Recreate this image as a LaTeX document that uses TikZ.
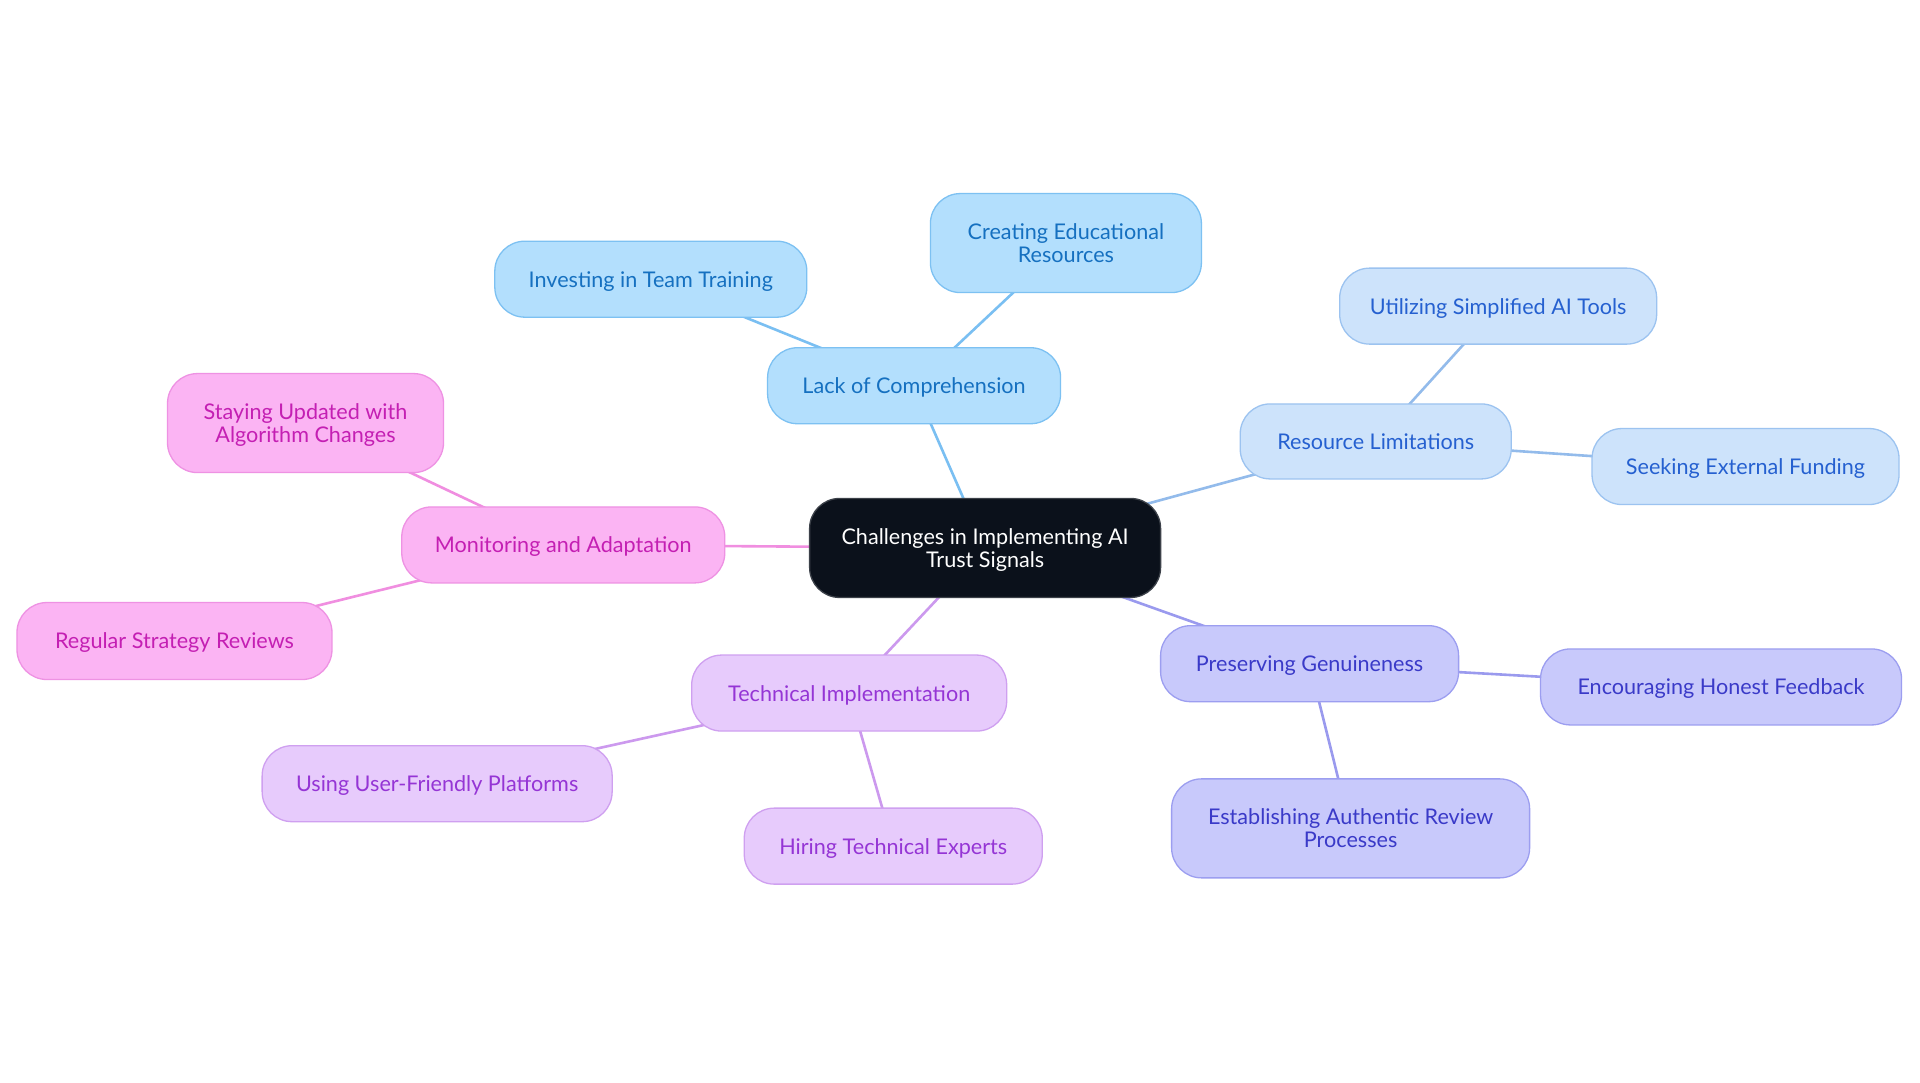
\documentclass[tikz,border=0pt]{standalone}
\usepackage{fontspec}
\setmainfont{Lato}
\usetikzlibrary{backgrounds}
\pgfdeclarelayer{bg}
\pgfsetlayers{bg,background,main}
\definecolor{cfill}{HTML}{0B111B}
\definecolor{afill}{HTML}{B3DFFD}\definecolor{aline}{HTML}{7DC1F2}\definecolor{atext}{HTML}{1570C0}\definecolor{aedge}{HTML}{7ABFF2}
\definecolor{bfill}{HTML}{CDE3FB}\definecolor{bline}{HTML}{9CC3F0}\definecolor{btext}{HTML}{2560D0}\definecolor{bedge}{HTML}{93BBEB}
\definecolor{pfill}{HTML}{C8C9FB}\definecolor{pline}{HTML}{9C9EF0}\definecolor{ptext}{HTML}{3A3AC8}\definecolor{pedge}{HTML}{9A9AEE}
\definecolor{tfill}{HTML}{E7CBFC}\definecolor{tline}{HTML}{CFA0F0}\definecolor{ttext}{HTML}{9535D5}\definecolor{tedge}{HTML}{CC99EE}
\definecolor{mfill}{HTML}{FBB4F3}\definecolor{mline}{HTML}{EE92E3}\definecolor{mtext}{HTML}{C41FB3}\definecolor{medge}{HTML}{F08EE0}
\tikzset{
  box/.style={rounded corners=30pt, line width=1.3pt, align=center, inner sep=0pt,
    font=\fontsize{21.6}{23.3}\selectfont, text depth=0pt},
  cbox/.style={box, fill=cfill, draw=cfill!80!white, text=white},
  abox/.style={box, fill=afill, draw=aline, text=atext},
  bbox/.style={box, fill=bfill, draw=bline, text=btext},
  pbox/.style={box, fill=pfill, draw=pline, text=ptext},
  tbox/.style={box, fill=tfill, draw=tline, text=ttext},
  mbox/.style={box, fill=mfill, draw=mline, text=mtext},
  sz/.style 2 args={minimum width=#1pt, minimum height=#2pt},
  edge/.style={line width=2.6pt}
}
\begin{document}
\begin{tikzpicture}[x=1.22449pt,y=-1.22449pt]
\begin{pgfonlayer}{bg}
\fill[white] (0,0) rectangle (1568,884.4);
\end{pgfonlayer}
\useasboundingbox (0,0) rectangle (1568,884.4);
\node[cbox, sz={351}{99}] (c) at (804.5,447.5) {Challenges in Implementing AI\\Trust Signals};
\node[abox, sz={293}{76}] (a) at (746.5,315) {Lack of Comprehension};
\node[abox, sz={312}{76}] (a1) at (531.5,228) {Investing in Team Training};
\node[abox, sz={271}{99}] (a2) at (870.5,198.5) {Creating Educational\\Resources};
\node[bbox, sz={271}{75}] (b) at (1123.5,360.5) {Resource Limitations};
\node[bbox, sz={317}{76}] (b1) at (1223.5,250) {Utilizing Simplified AI Tools};
\node[bbox, sz={307}{76}] (b2) at (1425.5,381) {Seeking External Funding};
\node[pbox, sz={298}{76}] (p) at (1069.5,542) {Preserving Genuineness};
\node[pbox, sz={361}{76}] (p1) at (1405.5,561) {Encouraging Honest Feedback};
\node[pbox, sz={358}{99}] (p2) at (1103,676.5) {Establishing Authentic Review\\Processes};
\node[tbox, sz={315}{76}] (t) at (693.5,566) {Technical Implementation};
\node[tbox, sz={350}{76}] (t1) at (357,640) {Using User-Friendly Platforms};
\node[tbox, sz={298}{76}] (t2) at (729.5,691) {Hiring Technical Experts};
\node[mbox, sz={323}{76}] (m) at (460,445) {Monitoring and Adaptation};
\node[mbox, sz={276}{99}] (m1) at (249.5,345.5) {Staying Updated with\\Algorithm Changes};
\node[mbox, sz={315}{77}] (m2) at (142.5,523.5) {Regular Strategy Reviews};
\begin{pgfonlayer}{background}
\draw[edge, aedge] (c.center) -- (a.center);
\draw[edge, aedge] (a.center) -- (a1.center);
\draw[edge, aedge] (a.center) -- (a2.center);
\draw[edge, bedge] (c.center) -- (b.center);
\draw[edge, bedge] (b.center) -- (b1.center);
\draw[edge, bedge] (b.center) -- (b2.center);
\draw[edge, pedge] (c.center) -- (p.center);
\draw[edge, pedge] (p.center) -- (p1.center);
\draw[edge, pedge] (p.center) -- (p2.center);
\draw[edge, tedge] (c.center) -- (t.center);
\draw[edge, tedge] (t.center) -- (t1.center);
\draw[edge, tedge] (t.center) -- (t2.center);
\draw[edge, medge] (c.center) -- (m.center);
\draw[edge, medge] (m.center) -- (m1.center);
\draw[edge, medge] (m.center) -- (m2.center);
\end{pgfonlayer}
\end{tikzpicture}
\end{document}
